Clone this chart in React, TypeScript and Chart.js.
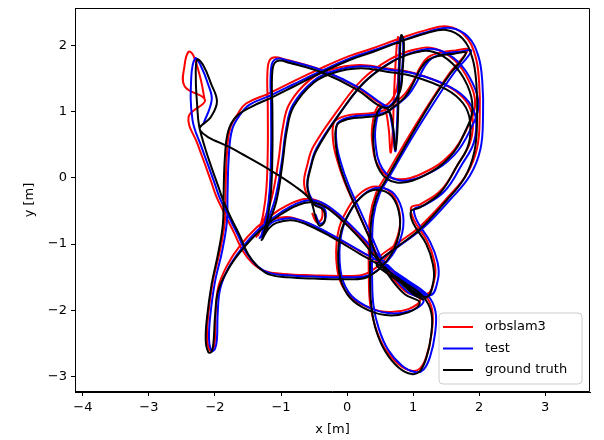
import React, { useEffect, useRef } from 'react';
import { Chart, registerables } from 'chart.js';
Chart.register(...registerables);

const xTicks = [-4, -3, -2, -1, 0, 1, 2, 3];
const yTicks = [-3, -2, -1, 0, 1, 2];
const seriesNames = ['orbslam3', 'test', 'ground truth'];
const seriesColors = ['#ff0000', '#0000ff', '#000000'];

// ground truth
const gtX = [-1.30,-1.18,-1.07,-0.85,-0.62,-0.26,0.20,0.46,0.87,1.16,
1.28,1.27,1.20,1.10,0.98,0.78,0.58,0.44,0.37,0.35,
0.35,0.37,0.45,0.58,0.95,1.31,1.55,1.80,1.62,1.40,
1.22,1.10,1.00,0.88,0.72,0.55,0.35,0.10,-0.06,-0.16,
-0.17,-0.12,0.00,0.17,0.35,0.47,0.65,0.88,1.10,0.93,
0.58,0.23,0.00,-0.12,-0.11,0.05,0.25,0.45,0.68,0.80,
0.76,0.58,0.30,0.00,-0.50,-0.90,-1.17,-1.35,-1.50,-1.62,
-1.77,-1.88,-1.95,-2.05,-2.15,-2.24,-2.27,-2.29,-2.27,-2.18,
-2.06,-1.97,-2.06,-2.23,-1.70,-1.17,-0.80,-0.56,-0.48,-0.42,
-0.34,-0.36,-0.50,-0.60,-0.55,-0.46,-0.11,0.25,0.65,1.00,
1.30,1.60,1.82,1.90,1.80,1.56,1.16,0.75,0.50,0.40,
0.42,0.50,0.63,0.70,0.73,0.76,0.78,0.80,0.82,0.86,
0.84,0.80,0.65,0.50,0.15,-0.36,-0.86,-1.06,-1.13,-1.13,
-1.13,-1.15,-1.20,-1.28,-1.20,-1.07,-0.98,-0.91,-0.81,-0.51,
-0.21,0.20,0.60,1.00,1.51,1.76,1.86,1.84,1.66,1.41,
1.10,0.97,1.00,1.20,1.30,1.31,1.20,0.85,0.55,0.45,
0.75,1.10,1.50,1.78,1.93,1.97,1.96,1.90,1.75,1.50,
1.20,0.80,0.40,0.05,-0.40,-0.80,-1.12,-1.45,-1.68,-1.80,
-1.85,-1.87,-1.88,-1.95,-2.05,-2.12,-2.14,-2.10,-2.05,-2.02,
-2.00,-1.95,-1.80,-1.60,-1.32,-1.00,-0.65,-0.40,-0.10,0.20,
0.45,0.75,1.00,1.16];
const gtY = [-0.95,-0.76,-0.68,-0.64,-0.70,-0.88,-1.15,-1.30,-1.58,-1.80,
-2.05,-2.40,-2.72,-2.92,-2.96,-2.86,-2.62,-2.30,-1.95,-1.55,
-1.10,-0.62,-0.28,-0.05,0.60,1.20,1.55,1.88,1.87,1.84,
1.77,1.62,1.42,1.22,1.08,0.96,0.92,0.90,0.86,0.78,
0.50,0.22,-0.13,-0.53,-0.93,-1.22,-1.50,-1.76,-1.88,-2.03,
-2.07,-1.95,-1.75,-1.42,-0.90,-0.50,-0.26,-0.18,-0.28,-0.60,
-0.95,-1.28,-1.50,-1.53,-1.52,-1.50,-1.46,-1.34,-1.15,-0.88,
-0.58,-0.33,-0.13,0.15,0.45,0.78,1.10,1.50,1.78,1.70,
1.42,1.15,0.92,0.72,0.42,0.12,-0.12,-0.33,-0.58,-0.72,
-0.66,-0.48,-0.40,-0.15,0.15,0.42,0.97,1.43,1.73,1.88,
1.90,1.72,1.40,1.05,0.72,0.32,0.03,-0.07,0.10,0.50,
0.85,1.05,1.02,0.75,0.42,0.65,1.20,1.80,2.15,2.05,
1.60,1.30,1.07,1.08,1.33,1.58,1.73,1.76,1.62,1.00,
0.40,-0.20,-0.60,-0.92,-0.72,-0.35,0.20,0.72,1.07,1.43,
1.58,1.65,1.60,1.53,1.33,1.12,0.87,0.50,0.17,-0.23,
-0.45,-0.50,-0.68,-1.00,-1.30,-1.55,-1.80,-1.60,-1.40,-1.30,
-1.05,-0.78,-0.35,0.00,0.40,0.90,1.40,1.80,2.10,2.23,
2.18,2.05,1.90,1.78,1.58,1.38,1.22,1.07,0.92,0.70,
0.30,-0.28,-0.70,-1.13,-1.60,-2.10,-2.45,-2.63,-2.62,-2.45,
-2.10,-1.70,-1.38,-1.10,-0.80,-0.55,-0.38,-0.40,-0.62,-0.92,
-1.22,-1.52,-1.75,-1.84];

// orbslam3 estimate (null = gap)
const orbX = [-1.38,-1.25,-1.14,-0.91,-0.67,-0.30,0.18,0.45,0.87,1.17,
1.29,1.28,1.21,1.11,0.98,0.78,0.57,0.43,0.35,0.33,
0.33,0.35,0.44,0.57,0.95,1.33,1.57,1.83,1.65,1.42,
1.23,1.11,1.01,0.88,0.72,0.54,0.33,0.07,-0.09,-0.20,
-0.21,-0.15,-0.03,0.15,0.33,0.46,0.64,0.88,1.11,0.93,
0.57,0.21,-0.03,-0.15,-0.14,0.02,0.23,0.44,0.67,0.80,
0.76,0.57,0.28,-0.03,-0.55,-0.96,-1.24,-1.43,-1.58,-1.71,
-1.86,-1.98,-2.05,-2.15,-2.26,
-2.40,-2.15,-2.46,-2.46,-2.40,-2.33,-2.22,-2.16,null,
-0.53,-0.46,-0.38,-0.40,-0.55,-0.65,-0.60,-0.51,-0.14,0.23,0.64,1.01,
1.32,1.63,1.85,1.94,1.83,1.58,1.17,0.75,0.49,0.38,
0.40,0.49,
0.57,0.63,0.66,0.69,0.71,0.74,0.77,0.80,0.78,0.74,0.60,
0.49,0.13,-0.40,-0.92,-1.13,-1.20,-1.20,
-1.20,-1.22,-1.27,-1.35,-1.27,-1.14,-1.04,-0.97,-0.87,-0.56,
-0.25,0.18,0.59,1.01,1.53,1.79,1.90,1.87,1.69,1.43,
1.11,0.97,1.01,1.21,1.32,1.33,1.21,0.85,0.54,0.44,
0.75,1.11,1.52,1.81,1.97,2.01,2.00,1.94,1.78,1.52,
1.21,0.80,0.38,0.02,-0.44,-0.86,-1.19,-1.53,-1.65,-1.77,
-1.82,-1.84,-1.85,-1.92,-2.03,-2.10,-2.12,-2.08,-2.03,-2.00,
-1.99,-1.95,-1.82,-1.64,-1.37,-1.05,-0.70,-0.44,-0.13,0.18,
0.44,0.75,1.01,1.17];
const orbY = [-0.90,-0.71,-0.63,-0.59,-0.65,-0.83,-1.10,-1.25,-1.53,-1.75,
-2.00,-2.35,-2.67,-2.87,-2.91,-2.81,-2.57,-2.25,-1.90,-1.50,
-1.05,-0.57,-0.23,0.00,0.65,1.25,1.60,1.93,1.92,1.89,
1.82,1.67,1.47,1.27,1.13,1.01,0.97,0.95,0.91,0.83,
0.55,0.27,-0.08,-0.48,-0.88,-1.17,-1.45,-1.71,-1.83,-1.98,
-2.02,-1.90,-1.70,-1.37,-0.85,-0.45,-0.21,-0.13,-0.23,-0.55,
-0.90,-1.23,-1.45,-1.48,-1.47,-1.45,-1.41,-1.29,-1.10,-0.83,
-0.53,-0.28,-0.08,0.20,0.50,
0.92,1.17,1.38,1.70,1.90,1.85,1.50,1.20,null,
-0.53,-0.67,-0.61,-0.43,-0.35,-0.10,0.20,0.47,1.02,1.48,1.78,1.93,
1.95,1.77,1.45,1.10,0.77,0.37,0.08,-0.02,0.15,0.55,
0.90,1.10,
1.05,0.75,0.38,0.65,1.20,1.80,2.12,2.02,1.60,1.30,1.10,
1.13,1.38,1.63,1.78,1.81,1.67,1.05,
0.45,-0.15,-0.55,-0.87,-0.67,-0.30,0.25,0.77,1.12,1.48,
1.63,1.70,1.65,1.58,1.38,1.17,0.92,0.55,0.22,-0.18,
-0.40,-0.45,-0.63,-0.95,-1.25,-1.50,-1.75,-1.55,-1.35,-1.25,
-1.00,-0.73,-0.30,0.05,0.45,0.95,1.45,1.85,2.15,2.28,
2.23,2.10,1.95,1.83,1.63,1.43,1.27,1.12,0.97,0.75,
0.35,-0.23,-0.65,-1.08,-1.55,-2.05,-2.42,-2.60,-2.59,-2.42,
-2.05,-1.65,-1.33,-1.05,-0.75,-0.50,-0.33,-0.35,-0.57,-0.87,
-1.17,-1.47,-1.70,-1.79];

// test estimate (null = gap)
const testX = [-1.33,-1.20,-1.09,-0.86,-0.62,-0.25,0.23,0.50,0.92,1.22,
1.34,1.33,1.26,1.16,1.03,0.83,0.62,0.48,0.40,0.38,
0.38,0.40,0.49,0.62,1.00,1.38,1.62,1.88,1.70,1.47,
1.28,1.16,1.06,0.93,0.77,0.59,0.38,0.12,-0.04,-0.15,
-0.16,-0.10,0.02,0.20,0.38,0.51,0.69,0.93,1.16,0.98,
0.62,0.26,0.02,-0.10,-0.09,0.07,0.28,0.49,0.72,0.85,
0.81,0.62,0.33,0.02,-0.50,-0.91,-1.19,-1.38,-1.53,-1.66,
-1.81,-1.93,-2.00,-2.10,-2.21,
-2.34,-2.36,-2.30,-2.22,-2.10,-2.05,-2.18,null,
-0.48,-0.41,-0.33,-0.35,-0.50,-0.60,-0.55,-0.46,-0.09,0.28,0.69,1.06,
1.37,1.68,1.90,1.99,1.88,1.63,1.22,0.80,0.54,0.43,
0.45,0.54,
0.62,0.69,0.73,0.75,0.77,0.79,0.81,0.85,0.83,0.79,0.64,
0.54,0.18,-0.35,-0.87,-1.08,-1.15,-1.15,
-1.15,-1.17,-1.22,-1.30,-1.22,-1.09,-0.99,-0.92,-0.82,-0.51,
-0.20,0.23,0.64,1.06,1.58,1.84,1.95,1.92,1.74,1.48,
1.16,1.02,1.06,1.26,1.37,1.38,1.26,0.90,0.59,0.49,
0.80,1.16,1.57,1.86,2.02,2.06,2.05,1.99,1.83,1.57,
1.26,0.85,0.43,0.07,-0.39,-0.81,-1.14,-1.48,-1.62,-1.74,
-1.79,-1.81,-1.82,-1.89,-2.00,-2.07,-2.09,-2.05,-2.00,-1.97,
-1.96,-1.92,-1.79,-1.60,-1.33,-1.00,-0.65,-0.39,-0.08,0.23,
0.49,0.80,1.06,1.22];
const testY = [-0.92,-0.73,-0.65,-0.61,-0.67,-0.85,-1.12,-1.27,-1.55,-1.77,
-2.02,-2.37,-2.69,-2.89,-2.93,-2.83,-2.59,-2.27,-1.92,-1.52,
-1.07,-0.59,-0.25,-0.02,0.63,1.23,1.58,1.91,1.90,1.87,
1.80,1.65,1.45,1.25,1.11,0.99,0.95,0.93,0.89,0.81,
0.53,0.25,-0.10,-0.50,-0.90,-1.19,-1.47,-1.73,-1.85,-2.00,
-2.04,-1.92,-1.72,-1.39,-0.87,-0.47,-0.23,-0.15,-0.25,-0.57,
-0.92,-1.25,-1.47,-1.50,-1.49,-1.47,-1.43,-1.31,-1.12,-0.85,
-0.55,-0.30,-0.10,0.18,0.48,
0.87,1.50,1.80,1.70,1.40,1.17,0.80,null,
-0.55,-0.69,-0.63,-0.45,-0.37,-0.12,0.18,0.45,1.00,1.46,1.76,1.91,
1.93,1.75,1.43,1.08,0.75,0.35,0.06,-0.04,0.13,0.53,
0.88,1.08,
1.04,0.75,0.40,0.65,1.20,1.80,2.12,2.03,1.60,1.30,1.08,
1.11,1.36,1.61,1.76,1.79,1.65,1.03,
0.43,-0.17,-0.57,-0.89,-0.69,-0.32,0.23,0.75,1.10,1.46,
1.61,1.68,1.63,1.56,1.36,1.15,0.90,0.53,0.20,-0.20,
-0.42,-0.47,-0.65,-0.97,-1.27,-1.52,-1.77,-1.57,-1.37,-1.27,
-1.02,-0.75,-0.32,0.03,0.43,0.93,1.43,1.83,2.13,2.26,
2.21,2.08,1.93,1.81,1.61,1.41,1.25,1.10,0.95,0.73,
0.33,-0.25,-0.67,-1.10,-1.57,-2.07,-2.43,-2.61,-2.58,-2.43,
-2.07,-1.67,-1.35,-1.07,-0.77,-0.52,-0.35,-0.37,-0.59,-0.89,
-1.19,-1.49,-1.72,-1.81];

const FONT = 'DejaVu Sans';
const LINE_W = 2;
const fmt = (v: number) => (v < 0 ? '\u2212' + Math.abs(v) : String(v));
const pts = (xs: (number | null)[], ys: (number | null)[]) => xs.map((x, i) => ({ x, y: ys[i] }));

const framePlugin = {
  id: 'frameLegend',
  afterDraw(chart: any) {
    const { ctx, chartArea } = chart;
    const L = Math.round(chartArea.left) + 0.5;
    const T = Math.round(chartArea.top) + 0.5;
    const R = Math.round(chartArea.right) - 0.5;
    const B = Math.round(chartArea.bottom) - 0.5;
    ctx.save();
    ctx.strokeStyle = '#000000';
    ctx.lineWidth = 1;
    ctx.beginPath();
    ctx.moveTo(L, T);
    ctx.lineTo(R, T);
    ctx.lineTo(R, B);
    ctx.lineTo(L, B);
    ctx.closePath();
    ctx.stroke();

    // legend (lower right, inside axes)
    const w = 143, h = 71;
    const lx = chartArea.right - 8 - w, ly = chartArea.bottom - 8 - h;
    const r = 4;
    ctx.beginPath();
    ctx.moveTo(lx + r, ly);
    ctx.lineTo(lx + w - r, ly);
    ctx.arcTo(lx + w, ly, lx + w, ly + r, r);
    ctx.lineTo(lx + w, ly + h - r);
    ctx.arcTo(lx + w, ly + h, lx + w - r, ly + h, r);
    ctx.lineTo(lx + r, ly + h);
    ctx.arcTo(lx, ly + h, lx, ly + h - r, r);
    ctx.lineTo(lx, ly + r);
    ctx.arcTo(lx, ly, lx + r, ly, r);
    ctx.closePath();
    ctx.fillStyle = 'rgba(255,255,255,0.85)';
    ctx.fill();
    ctx.strokeStyle = '#cccccc';
    ctx.lineWidth = 1;
    ctx.stroke();

    ctx.font = `13px "${FONT}"`;
    ctx.textBaseline = 'middle';
    ctx.textAlign = 'left';
    chart.data.datasets.forEach((ds: any, i: number) => {
      const yy = ly + 14 + i * 21.5;
      ctx.strokeStyle = ds.borderColor;
      ctx.lineWidth = LINE_W;
      ctx.beginPath();
      ctx.moveTo(lx + 4, yy);
      ctx.lineTo(lx + 34, yy);
      ctx.stroke();
      ctx.fillStyle = '#000';
      ctx.fillText(ds.label, lx + 46, yy);
    });
    ctx.restore();
  },
};

export default function App() {
  const ref = useRef<HTMLCanvasElement | null>(null);
  useEffect(() => {
    if (!ref.current) return;
    const font = { family: FONT, size: 13 };
    const mk = (i: number, xs: any[], ys: any[], order: number) => ({
      label: seriesNames[i],
      data: pts(xs, ys),
      showLine: true,
      borderColor: seriesColors[i],
      backgroundColor: seriesColors[i],
      borderWidth: LINE_W,
      pointRadius: 0,
      pointHoverRadius: 0,
      tension: 0.4,
      spanGaps: false,
      order,
    });
    const noPad = (s: any) => { s.paddingTop = 0; s.paddingBottom = 0; s.paddingLeft = 0; s.paddingRight = 0; };
    const chart = new Chart(ref.current, {
      type: 'scatter',
      data: {
        datasets: [mk(0, orbX, orbY, 3), mk(1, testX, testY, 2), mk(2, gtX, gtY, 1)],
      },
      options: {
        responsive: false,
        animation: false,
        events: [],
        layout: { padding: { left: 0, right: 14, top: 8, bottom: 0 } },
        plugins: { legend: { display: false }, tooltip: { enabled: false } },
        scales: {
          x: {
            type: 'linear',
            min: -4.12,
            max: 3.68,
            afterBuildTicks: (s: any) => { s.ticks = xTicks.map((v) => ({ value: v })); },
            afterFit: (s: any) => { s.height = 48; noPad(s); },
            ticks: { callback: (v: any) => fmt(Number(v)), font, color: '#000', padding: 4, maxRotation: 0, autoSkip: false },
            grid: { display: true, drawOnChartArea: false, drawTicks: true, tickLength: 4, tickColor: '#000', color: '#000' },
            border: { display: true, color: '#000', width: 1 },
            title: { display: true, text: 'x [m]', font, color: '#000', padding: { top: 0, bottom: 3 } },
          },
          y: {
            type: 'linear',
            min: -3.23,
            max: 2.56,
            afterBuildTicks: (s: any) => { s.ticks = yTicks.map((v) => ({ value: v })); },
            afterFit: (s: any) => { s.width = 75; noPad(s); },
            ticks: { callback: (v: any) => fmt(Number(v)), font, color: '#000', padding: 4, autoSkip: false },
            grid: { display: true, drawOnChartArea: false, drawTicks: true, tickLength: 4, tickColor: '#000', color: '#000' },
            border: { display: true, color: '#000', width: 1 },
            title: { display: true, text: 'y [m]', font, color: '#000', padding: { top: 22, bottom: 0 } },
          },
        },
      } as any,
      plugins: [framePlugin],
    });
    return () => chart.destroy();
  }, []);
  return (
    <div style={{ position: 'fixed', left: 0, top: 0, width: 604, height: 440, background: '#fff' }}>
      <canvas ref={ref} width={604} height={440} style={{ display: 'block', width: 604, height: 440 }} />
    </div>
  );
}
